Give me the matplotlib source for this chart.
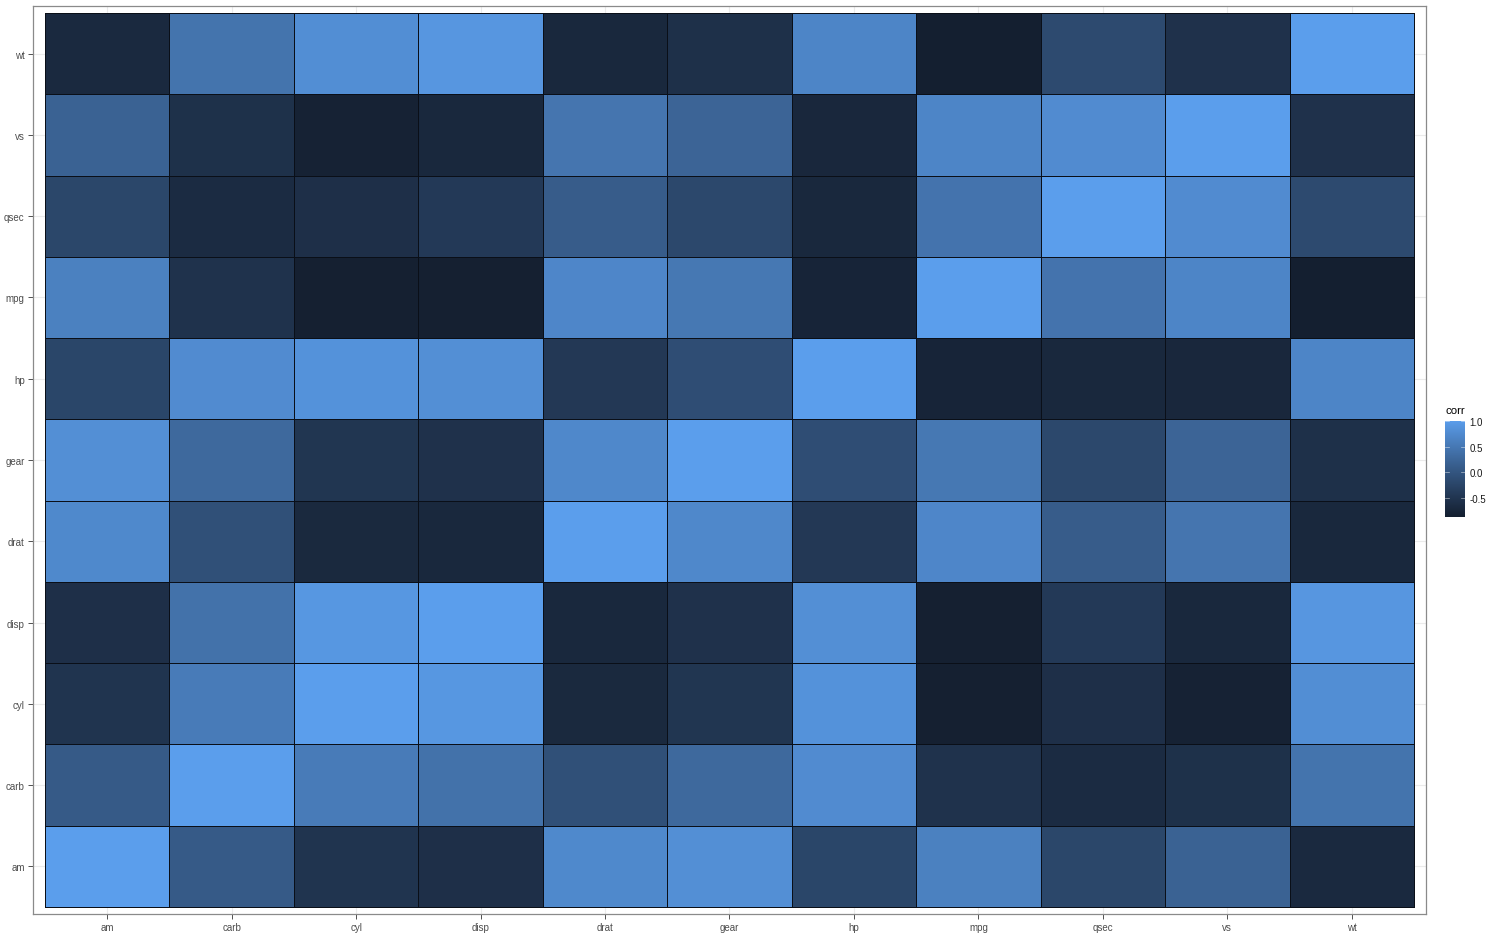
import numpy as np
import matplotlib
matplotlib.use("Agg")
import matplotlib.pyplot as plt
from matplotlib.colors import ListedColormap, Normalize

plt.rcParams['font.family'] = ['Liberation Sans', 'DejaVu Sans']

variables = ["am", "carb", "cyl", "disp", "drat", "gear", "hp", "mpg", "qsec", "vs", "wt"]

# correlation matrix rows (same order as variables)
row_am   = [1.0, 0.0575, -0.5226, -0.5912, 0.7127, 0.7941, -0.2432, 0.5998, -0.2299, 0.1683, -0.6925]
row_carb = [0.0575, 1.0, 0.5270, 0.3950, -0.0908, 0.2741, 0.7498, -0.5509, -0.6562, -0.5696, 0.4276]
row_cyl  = [-0.5226, 0.5270, 1.0, 0.9020, -0.6999, -0.4927, 0.8324, -0.8522, -0.5912, -0.8108, 0.7825]
row_disp = [-0.5912, 0.3950, 0.9020, 1.0, -0.7102, -0.5556, 0.7909, -0.8476, -0.4337, -0.7104, 0.8880]
row_drat = [0.7127, -0.0908, -0.6999, -0.7102, 1.0, 0.6996, -0.4488, 0.6812, 0.0912, 0.4403, -0.7124]
row_gear = [0.7941, 0.2741, -0.4927, -0.5556, 0.6996, 1.0, -0.1257, 0.4803, -0.2127, 0.2060, -0.5833]
row_hp   = [-0.2432, 0.7498, 0.8324, 0.7909, -0.4488, -0.1257, 1.0, -0.7762, -0.7082, -0.7231, 0.6587]
row_mpg  = [0.5998, -0.5509, -0.8522, -0.8476, 0.6812, 0.4803, -0.7762, 1.0, 0.4187, 0.6640, -0.8677]
row_qsec = [-0.2299, -0.6562, -0.5912, -0.4337, 0.0912, -0.2127, -0.7082, 0.4187, 1.0, 0.7445, -0.1747]
row_vs   = [0.1683, -0.5696, -0.8108, -0.7104, 0.4403, 0.2060, -0.7231, 0.6640, 0.7445, 1.0, -0.5549]
row_wt   = [-0.6925, 0.4276, 0.7825, 0.8880, -0.7124, -0.5833, 0.6587, -0.8677, -0.1747, -0.5549, 1.0]

legend_ticks = [-0.5, 0.0, 0.5, 1.0]
legend_title = "corr"

corr = np.array([row_am, row_carb, row_cyl, row_disp, row_drat, row_gear,
                 row_hp, row_mpg, row_qsec, row_vs, row_wt])

# ---- gradient interpolated in Lab ----
def hex2rgb(h):
    h = h.lstrip('#')
    return np.array([int(h[i:i+2], 16) / 255 for i in (0, 2, 4)])

M = np.array([[0.4124564, 0.3575761, 0.1804375],
              [0.2126729, 0.7151522, 0.0721750],
              [0.0193339, 0.1191920, 0.9503041]])
Minv = np.linalg.inv(M)
WHITE = np.array([0.95047, 1.0, 1.08883])

def srgb2lin(c):
    return np.where(c <= 0.04045, c / 12.92, ((c + 0.055) / 1.055) ** 2.4)

def lin2srgb(c):
    c = np.clip(c, 0, 1)
    return np.where(c <= 0.0031308, 12.92 * c, 1.055 * c ** (1 / 2.4) - 0.055)

def f(t):
    d = 6 / 29
    return np.where(t > d ** 3, np.cbrt(t), t / (3 * d * d) + 4 / 29)

def finv(t):
    d = 6 / 29
    return np.where(t > d, t ** 3, 3 * d * d * (t - 4 / 29))

def rgb2lab(rgb):
    xyz = M @ srgb2lin(rgb) / WHITE
    fx, fy, fz = f(xyz)
    return np.array([116 * fy - 16, 500 * (fx - fy), 200 * (fy - fz)])

def lab2rgb(lab):
    L, a, b = lab
    fy = (L + 16) / 116
    fx = fy + a / 500
    fz = fy - b / 200
    xyz = np.array([finv(fx), finv(fy), finv(fz)]) * WHITE
    return lin2srgb(Minv @ xyz)

lab_lo = rgb2lab(hex2rgb("#141F30"))
lab_hi = rgb2lab(hex2rgb("#5B9EEC"))
cols = [lab2rgb(lab_lo + (lab_hi - lab_lo) * t) for t in np.linspace(0, 1, 256)]
cmap = ListedColormap(np.clip(np.array(cols), 0, 1))

vmin, vmax = corr.min(), corr.max()
norm = Normalize(vmin=vmin, vmax=vmax)

W, H = 1500, 937
fig = plt.figure(figsize=(W / 100, H / 100), dpi=100)
ax = fig.add_axes([33 / W, 1 - 915 / H, (1426 - 33) / W, (915 - 7) / H])

n = len(variables)
edges = np.arange(n + 1) + 0.5
ax.pcolormesh(edges, edges, corr, cmap=cmap, norm=norm,
              edgecolors='#0a0f18', linewidth=0.55, zorder=2)

mx = 12 / 124.45
my = 7 / 81.27
ax.set_xlim(0.5 - mx, n + 0.5 + mx)
ax.set_ylim(0.5 - my, n + 0.5 + my)

pos = np.arange(1, n + 1)
ax.set_xticks(pos)
ax.set_xticklabels(variables)
ax.set_yticks(pos)
ax.set_yticklabels(variables)
ax.grid(True, color='#EBEBEB', linewidth=0.8, zorder=0)
ax.set_axisbelow(True)
ax.tick_params(axis='both', length=3.5, width=0.6, color='#333333',
               labelsize=7, labelcolor='#4D4D4D', pad=2.5)
for s in ax.spines.values():
    s.set_color('#8a8a8a')
    s.set_linewidth(0.9)

# colorbar legend
cax = fig.add_axes([1445 / W, 1 - 518 / H, 20 / W, 96 / H])
grad = np.linspace(vmin, vmax, 300).reshape(-1, 1)
cax.imshow(grad, aspect='auto', origin='lower', cmap=cmap, norm=norm,
           extent=[0, 1, vmin, vmax])
cax.set_xlim(0, 1)
cax.set_ylim(vmin, vmax)
cax.set_xticks([])
cax.set_yticks(legend_ticks)
cax.set_yticklabels([f"{t:.1f}" for t in legend_ticks])
cax.yaxis.tick_right()
cax.tick_params(axis='y', length=0, labelsize=7, labelcolor='#1a1a1a', pad=3)
for t in legend_ticks:
    cax.plot([0, 0.2], [t, t], color='white', lw=0.5, alpha=0.6)
    cax.plot([0.8, 1], [t, t], color='white', lw=0.5, alpha=0.6)
for s in cax.spines.values():
    s.set_visible(False)
fig.text(1445 / W, 1 - 411 / H, legend_title, fontsize=8.2, color='black',
         ha='left', va='center')

fig.savefig("out.png", dpi=100)
